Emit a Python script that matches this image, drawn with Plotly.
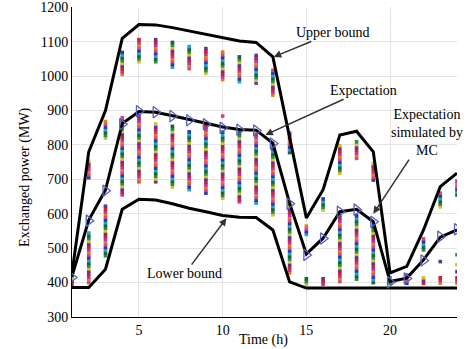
import plotly.graph_objects as go

# ---------------- data ----------------
hours = list(range(1, 25))

upper_bound = [428, 780, 900, 1110, 1150, 1149, 1141, 1131, 1121, 1112, 1102, 1098,
               1056, 822, 588, 670, 829, 840, 780, 428, 447, 553, 679, 718]
expectation = [418, 582, 669, 862, 897, 895, 885, 874, 862, 852, 845, 843,
               805, 631, 483, 529, 606, 613, 577, 403, 413, 466, 532, 553]
mc_expectation = [415, 580, 667, 860, 898, 895, 884, 872, 860, 850, 844, 842,
                  804, 629, 480, 528, 606, 612, 577, 401, 412, 464, 533, 555]
lower_bound = [386, 386, 439, 613, 642, 640, 629, 616, 606, 595, 590, 589,
               553, 402, 384, 384, 384, 384, 384, 384, 384, 384, 384, 384]

# Monte Carlo sample columns: per hour, value ranges (MW) covered by the sample dots
mc_ranges = {
    1: [(395, 450)],
    2: [(400, 548), (705, 760)],
    3: [(478, 625), (820, 870)],
    4: [(655, 880), (1005, 1075)],
    5: [(693, 890), (1042, 1112)],
    6: [(693, 867), (1042, 1112)],
    7: [(678, 858), (1026, 1100)],
    8: [(670, 838), (1022, 1093)],
    9: [(660, 862), (1008, 1082)],
    10: [(645, 843), (884, 884), (990, 1073)],
    11: [(635, 838), (984, 1061)],
    12: [(631, 834), (980, 1065)],
    13: [(597, 800), (945, 1017)],
    14: [(428, 630), (778, 835)],
    15: [(395, 413), (540, 568)],
    16: [(395, 413), (611, 650)],
    17: [(403, 600), (718, 805)],
    18: [(410, 600), (761, 809)],
    19: [(400, 575), (698, 751)],
    20: [(398, 418)],
    21: [(398, 428)],
    22: [(398, 418), (495, 530)],
    23: [(398, 418), (461, 461), (620, 660)],
    24: [(398, 418), (432, 432), (452, 452), (481, 481), (655, 698)],
}
dot_step = 8  # spacing of the drawn sample dots inside a range (MW)

x_ticks = [5, 10, 15, 20]
y_ticks = list(range(300, 1201, 100))

dot_palette = ["#d81f26", "#23923a", "#2339b8", "#b632b6", "#d4c02c",
               "#1fa8c0", "#e07c20", "#5e3596", "#1b5e40", "#e2407c"]

# ---------------- build ----------------
dx, dy, dc = [], [], []
k = 0
for h in hours:
    for lo, hi in mc_ranges.get(h, []):
        v = lo
        while v <= hi:
            dx.append(h)
            dy.append(v)
            dc.append(dot_palette[(k * 7) % len(dot_palette)])
            k += 1
            v += dot_step

FONT = "Liberation Serif, Times New Roman, serif"

fig = go.Figure()
fig.add_trace(go.Scatter(x=dx, y=dy, mode="markers",
                         marker=dict(symbol="square", size=3.6, color=dc, line=dict(width=0)),
                         hoverinfo="skip", showlegend=False))
for series in (upper_bound, lower_bound, expectation):
    fig.add_trace(go.Scatter(x=hours, y=series, mode="lines",
                             line=dict(color="black", width=3), showlegend=False))
fig.add_trace(go.Scatter(x=hours, y=mc_expectation, mode="markers",
                         marker=dict(symbol="triangle-right-open", size=10,
                                     color="#5a5fb8", line=dict(width=1.3)),
                         showlegend=False))

arrow_kw = dict(showarrow=True, arrowhead=2, arrowsize=1, arrowwidth=1.5,
                arrowcolor="#333333", axref="x", ayref="y", xref="x", yref="y",
                font=dict(family=FONT, size=14, color="black"), standoff=0)
fig.add_annotation(text="Upper bound", x=13.05, y=1056, ax=16.6, ay=1127, **arrow_kw)
fig.add_annotation(text="Expectation", x=12.55, y=829, ax=18.4, ay=959, **arrow_kw)
fig.add_annotation(text="Expectation<br>simulated by<br>MC", x=19.0, y=600, ax=22.2, ay=836,
                   **arrow_kw)
fig.add_annotation(text="Lower bound", x=10.23, y=587, ax=7.74, ay=426, **arrow_kw)

# axis titles
fig.add_annotation(text="Time (h)", xref="paper", yref="paper", x=0.4987, y=-0.074,
                   showarrow=False, xanchor="center", yanchor="middle",
                   font=dict(family=FONT, size=14, color="black"))
fig.add_annotation(text="Exchanged power (MW)", xref="paper", yref="paper", x=-0.122, y=0.452,
                   showarrow=False, textangle=-90, xanchor="center", yanchor="middle",
                   font=dict(family=FONT, size=14, color="black"))

fig.update_layout(
    width=474, height=349,
    margin=dict(l=72, r=17, t=7, b=32, autoexpand=False),
    paper_bgcolor="white", plot_bgcolor="white",
    font=dict(family=FONT, size=14, color="black"),
    xaxis=dict(range=[1, 24], tickvals=x_ticks, showgrid=True, gridcolor="#e4e4e4",
               gridwidth=1, showline=True, linecolor="black", linewidth=1, zeroline=False,
               ticks="", tickfont=dict(family=FONT, size=14), automargin=False),
    yaxis=dict(range=[300, 1201], tickvals=y_ticks, showgrid=True, gridcolor="#e4e4e4",
               gridwidth=1, showline=True, linecolor="black", linewidth=1, zeroline=False,
               ticks="", tickfont=dict(family=FONT, size=14), automargin=False),
)

fig.write_html("out.html")
